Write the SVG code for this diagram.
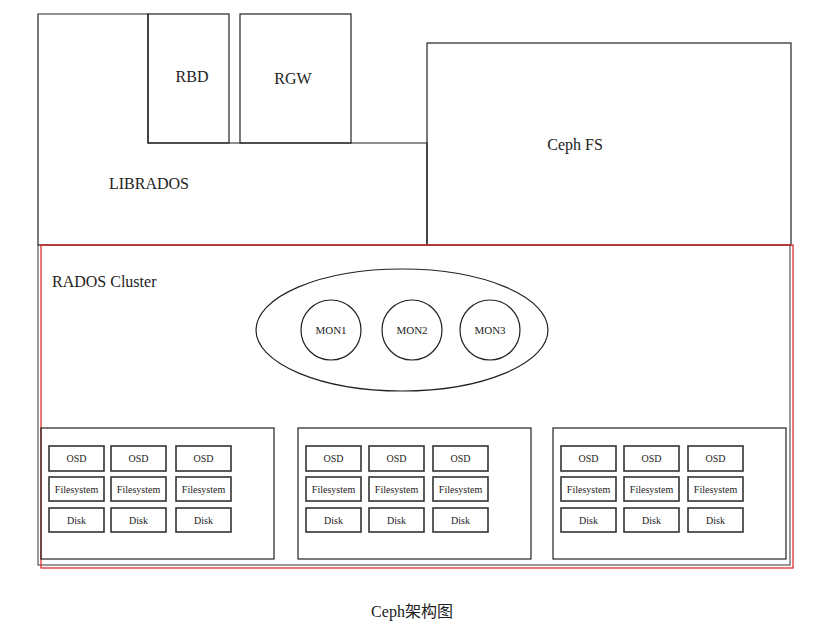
<svg xmlns="http://www.w3.org/2000/svg" width="839" height="635" viewBox="0 0 839 635">
<style>
.b{fill:none;stroke:#222;stroke-width:1.2}
.s{fill:none;stroke:#333;stroke-width:1.6}
text{font-family:"Liberation Serif",serif;fill:#222;text-anchor:middle}
.t{font-size:16px}
.m{font-size:11px}
.o{font-size:10px}
</style>
<rect width="839" height="635" fill="#fff"/>
<g id="librados"><path class="b" d="M38,245 V14 H148 V143 H427 V245 Z"/><text class="t" x="149" y="189">LIBRADOS</text></g>
<g id="rbd"><rect class="b" x="148" y="14" width="81" height="129"/><text class="t" x="192" y="82">RBD</text></g>
<g id="rgw"><rect class="b" x="240" y="14" width="111" height="129"/><text class="t" x="293" y="84">RGW</text></g>
<g id="cephfs"><rect class="b" x="427" y="43" width="364" height="202"/><text class="t" x="575" y="150">Ceph FS</text></g>
<g id="connectors"></g>
<g id="rados"><rect x="38" y="245" width="752" height="320" fill="none" stroke="#555" stroke-width="1.2"/><rect x="41" y="245" width="752" height="323" fill="none" stroke="#e02020" stroke-width="1.2"/><text class="t" x="52" y="287" style="text-anchor:start">RADOS Cluster</text></g>
<g id="mons"><ellipse class="b" cx="402" cy="330" rx="146" ry="61"/>
<circle class="b" cx="331" cy="330" r="30"/><text class="m" x="331" y="334">MON1</text>
<circle class="b" cx="412" cy="330" r="30"/><text class="m" x="412" y="334">MON2</text>
<circle class="b" cx="490" cy="330" r="30"/><text class="m" x="490" y="334">MON3</text></g>
<defs><g id="osd">
<rect class="s" x="0" y="0" width="55" height="25"/><text class="o" x="27.5" y="16">OSD</text>
<rect class="s" x="0" y="31" width="55" height="24"/><text class="o" x="27.5" y="47">Filesystem</text>
<rect class="s" x="0" y="62" width="55" height="24"/><text class="o" x="27.5" y="78">Disk</text>
</g></defs>
<g id="node1"><rect class="b" x="41" y="428" width="233" height="131"/><use href="#osd" x="49" y="446"/><use href="#osd" x="111" y="446"/><use href="#osd" x="176" y="446"/></g>
<g id="node2"><rect class="b" x="298" y="428" width="233" height="131"/><use href="#osd" x="306" y="446"/><use href="#osd" x="369" y="446"/><use href="#osd" x="433" y="446"/></g>
<g id="node3"><rect class="b" x="553" y="428" width="233" height="131"/><use href="#osd" x="561" y="446"/><use href="#osd" x="624" y="446"/><use href="#osd" x="688" y="446"/></g>
<text x="412" y="617" style="font-size:16px;font-family:'Liberation Serif','Noto Sans CJK SC',serif">Ceph架构图</text>
</svg>
